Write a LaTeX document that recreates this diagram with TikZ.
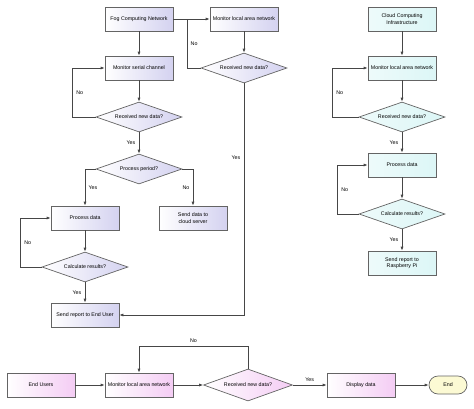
\documentclass[tikz,border=0pt]{standalone}
\usepackage{fontspec}
\setmainfont{Liberation Sans}
\usetikzlibrary{shapes.geometric, arrows.meta, positioning}
\definecolor{mylila}{RGB}{212,210,240}
\definecolor{mycyan}{RGB}{220,246,246}
\definecolor{mypink}{RGB}{244,204,244}
\definecolor{mygelb}{RGB}{252,250,212}
\definecolor{mygrau}{RGB}{100,100,100}

\begin{document}
\begin{tikzpicture}[x=1pt, y=-1pt, >={Latex[length=4pt,width=3pt]}, font=\fontsize{5.3}{6.3}\selectfont,
	box/.style={draw=mygrau, line width=.7pt, minimum width=68pt, minimum height=24pt, inner sep=1pt, align=center},
	dec/.style={diamond, draw=mygrau, line width=.7pt, minimum width=86pt, minimum height=30pt, inner sep=0pt, aspect=2.9},
	fog/.style={left color=white, right color=mylila},
	cld/.style={left color=mycyan!50!white, right color=mycyan},
	usr/.style={left color=white, right color=mypink},
	pfeil/.style={->, draw=mygrau!70!black, line width=.7pt},
	linie/.style={draw=mygrau!70!black, line width=.7pt}]
	\useasboundingbox (0,0) rectangle (474,408);
	% Fog Computing
	\node[box, fog] (fogNet) at (139,19) {Fog Computing Network};
	\node[box, fog] (serial) at (139,68) {Monitor serial channel};
	\node[dec, fog] (rndA) at (139,117) {Received new data?};
	\node[dec, fog] (period) at (139,169) {Process period?};
	\node[box, fog] (procA) at (85,218) {Process data};
	\node[box, fog] (sendCloud) at (193,218) {Send data to\\cloud server};
	\node[dec, fog] (calcA) at (85,267) {Calculate results?};
	\node[box, fog] (reportA) at (85,315) {Send report to End User};
	\node[box, fog] (lanA) at (244,19) {Monitor local area network};
	\node[dec, fog] (rndB) at (244,68) {Received new data?};
	\coordinate (jA) at (187,19);
	% Cloud Computing
	\node[box, cld] (infra) at (402,19) {Cloud Computing\\Infrastructure};
	\node[box, cld] (lanB) at (402,68) {Monitor local area network};
	\node[dec, cld] (rndC) at (402,117) {Received new data?};
	\node[box, cld] (procB) at (402,165) {Process data};
	\node[dec, cld] (calcB) at (402,214) {Calculate results?};
	\node[box, cld] (reportB) at (402,263) {Send report to\\Raspberry Pi};
	% End Users
	\node[box, usr] (users) at (41,385) {End Users};
	\node[box, usr] (lanC) at (139,385) {Monitor local area network};
	\node[dec, usr, minimum width=89pt, minimum height=32pt] (rndD) at (248,385) {Received new data?};
	\node[box, usr] (display) at (361,385) {Display data};
	\node[draw=mygrau, line width=.7pt, fill=mygelb, rounded corners=9pt, minimum width=38pt, minimum height=18pt] (ende) at (448,385) {End};
	% Verbindungen Fog
	\draw[pfeil] (fogNet) -- (serial);
	\draw[pfeil] (fogNet) -- (lanA);
	\draw[pfeil] (serial) -- (rndA);
	\draw[pfeil] (rndA.west) -- ++(-23,0) |- node[pos=.25, right] {No} (serial.west);
	\draw[pfeil] (rndA) -- node[midway, left] {Yes} (period);
	\draw[pfeil] (period.west) -| node[pos=.75, right] {Yes} (procA.north);
	\draw[pfeil] (period.east) -| node[pos=.75, left] {No} (sendCloud.north);
	\draw[pfeil] (procA) -- (calcA);
	\draw[pfeil] (calcA.west) -- ++(-21,0) |- node[pos=.25, right] {No} (procA.west);
	\draw[pfeil] (calcA) -- node[midway, left] {Yes} (reportA);
	\draw[pfeil] (lanA) -- (rndB);
	\draw[linie] (rndB.west) -| node[pos=.75, right] {No} (jA);
	\draw[pfeil] (rndB.south) |- node[pos=.16, left] {Yes} (reportA.east);
	% Verbindungen Cloud
	\draw[pfeil] (infra) -- (lanB);
	\draw[pfeil] (lanB) -- (rndC);
	\draw[pfeil] (rndC.west) -- ++(-26,0) |- node[pos=.25, right] {No} (lanB.west);
	\draw[pfeil] (rndC) -- node[midway, left] {Yes} (procB);
	\draw[pfeil] (procB) -- (calcB);
	\draw[pfeil] (calcB.west) -- ++(-21,0) |- node[pos=.25, right] {No} (procB.west);
	\draw[pfeil] (calcB) -- node[midway, left] {Yes} (reportB);
	% Verbindungen End Users
	\draw[pfeil] (users) -- (lanC);
	\draw[pfeil] (lanC) -- (rndD);
	\draw[pfeil] (rndD.north) -- ++(0,-22) -| node[pos=.25, above] {No} (lanC.north);
	\draw[pfeil] (rndD) -- node[midway, above] {Yes} (display);
	\draw[pfeil] (display) -- (ende);
\end{tikzpicture}
\end{document}
